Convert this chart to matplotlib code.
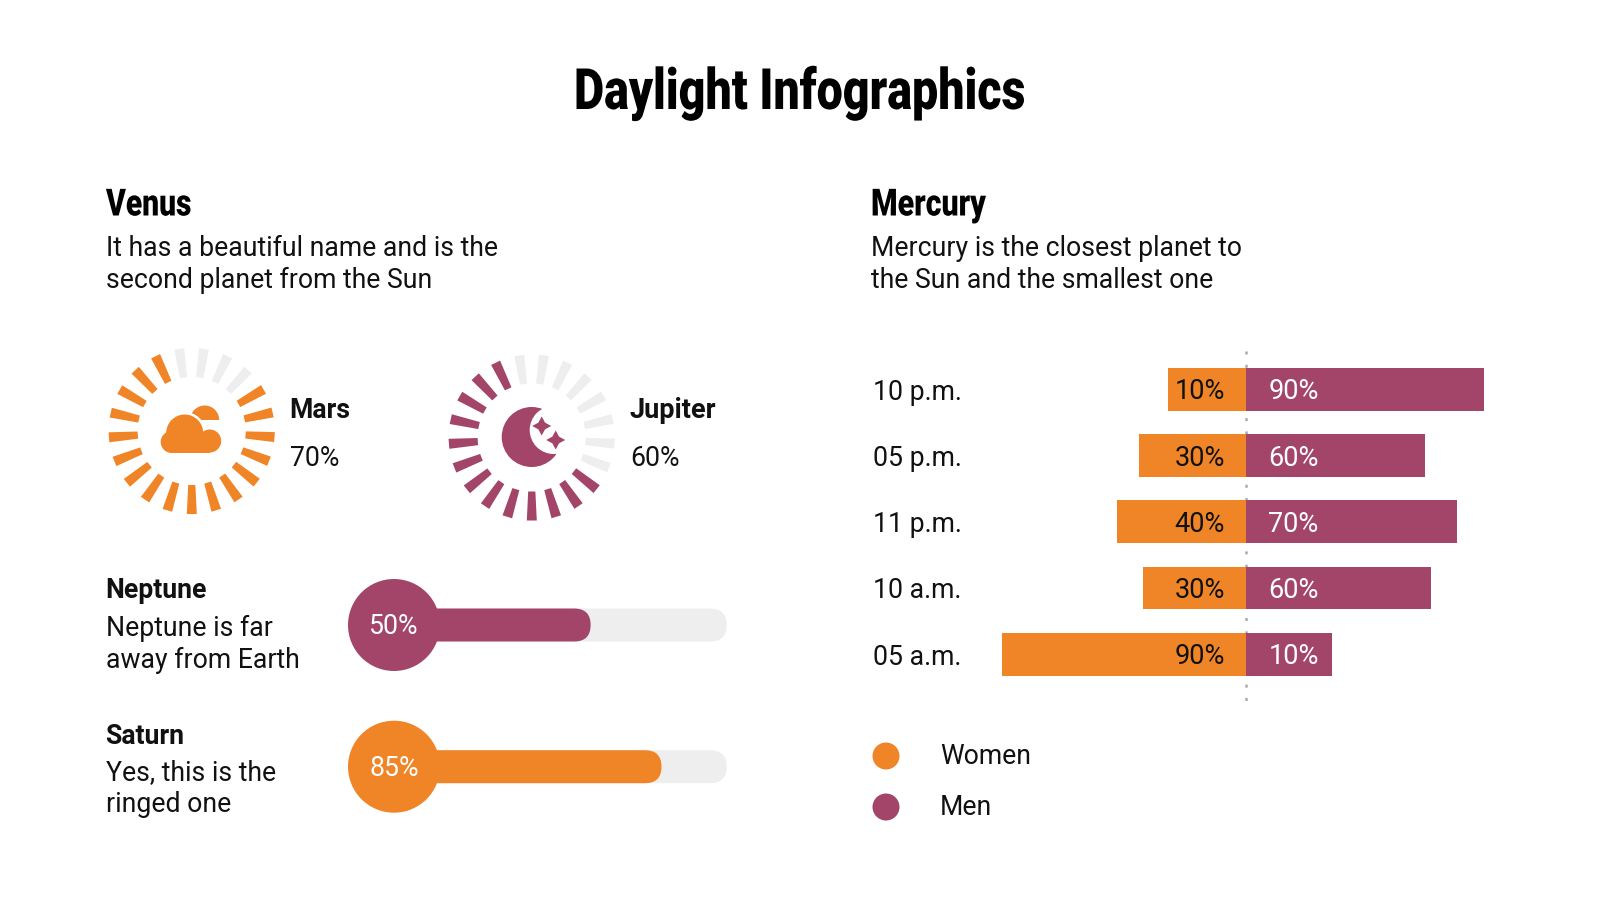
#!/usr/bin/env python3
"""Daylight infographics slide: gauges, progress bars and a diverging bar chart."""

import matplotlib
matplotlib.use("Agg")
import matplotlib.pyplot as plt
import numpy as np
from matplotlib.patches import Circle, FancyBboxPatch, Rectangle, Wedge
from matplotlib.patheffects import AbstractPathEffect
from matplotlib.transforms import Affine2D

ORANGE = "#F08527"
PLUM = "#A34569"
LIGHT = "#EEEEEE"
BODY = "Roboto"

# gauges
gauge_names = ["Mars", "Jupiter"]
gauge_labels = ["70%", "60%"]
gauge_ticks_total = 21
gauge_ticks_on = [17, 13]

# progress bars: fill is the share of the track covered in the picture
progress_names = ["Neptune", "Saturn"]
progress_labels = ["50%", "85%"]
progress_fill = [59.1, 80.4]

# diverging bars: lengths as drawn, labels as printed
hours = ["10 p.m.", "05 p.m.", "11 p.m.", "10 a.m.", "05 a.m."]
women_len = [30, 41, 49.5, 39.5, 94]
men_len = [91.5, 69, 81, 71, 33]
women_labels = ["10%", "30%", "40%", "30%", "90%"]
men_labels = ["90%", "60%", "70%", "60%", "10%"]

W, H = 1600, 900

fig = plt.figure(figsize=(W / 100, H / 100), dpi=100, facecolor="white")
page = fig.add_axes((0, 0, 1, 1))
page.set_xlim(0, W)
page.set_ylim(H, 0)
page.axis("off")


class Squeeze(AbstractPathEffect):
    """Narrow a text run sideways, there is no condensed face installed."""

    def __init__(self, sx):
        super().__init__()
        self.sx = sx

    def draw_path(self, renderer, gc, tpath, affine, rgbFace=None):
        renderer.draw_path(gc, tpath, Affine2D().scale(self.sx, 1) + affine, rgbFace)


def body_text(x, y, s, size=19.2, **kw):
    kw.setdefault("color", "#111111")
    page.text(x, y, s, fontsize=size, family=BODY, va="center", **kw)


def head_text(x, y, s, size, sx):
    t = page.text(x, y, s, fontsize=size, family=BODY, weight=900, va="center", color="black")
    t.set_path_effects([Squeeze(sx)])


def draw_gauge(cx, cy, n_on, color):
    for k in range(gauge_ticks_total):
        ang = np.deg2rad(8.5 + (k - 1) * 360 / gauge_ticks_total)
        u = np.array([np.sin(ang), -np.cos(ang)])
        v = np.array([u[1], -u[0]])
        a = np.array([cx, cy]) + 54 * u
        b = np.array([cx, cy]) + 83 * u
        pts = np.array([a - 3.6 * v, a + 3.6 * v, b + 5 * v, b - 5 * v])
        # the unlit ticks sit at the start, the lit ones run on clockwise
        lit = k >= gauge_ticks_total - n_on
        page.fill(pts[:, 0], pts[:, 1], color=color if lit else LIGHT, lw=0)


def draw_cloud(cx, cy):
    page.add_patch(Wedge((cx + 13, cy - 18), 14.5, 180, 360, color=ORANGE, lw=0))
    bumps = [(-7, -5, 18.5), (-20, 4, 11), (18, 3, 11.5)]
    for dx, dy, r in bumps:
        page.add_patch(Circle((cx + dx, cy + dy), r + 2.5, color="white", lw=0))
    for dx, dy, r in bumps:
        page.add_patch(Circle((cx + dx, cy + dy), r, color=ORANGE, lw=0))
    page.add_patch(Rectangle((cx - 20, cy), 38, 15, color=ORANGE, lw=0))


def draw_star(cx, cy, r):
    t = np.arange(8) * np.pi / 4
    rad = np.where(np.arange(8) % 2 == 0, r, r * 0.5)
    page.fill(cx + rad * np.sin(t), cy + rad * np.cos(t), color=PLUM, lw=0)


def draw_moon(cx, cy):
    page.add_patch(Circle((cx, cy), 30, color=PLUM, lw=0))
    page.add_patch(Circle((cx + 22, cy - 7), 24, color="white", lw=0))
    draw_star(cx + 10, cy - 11, 9.5)
    draw_star(cx + 24, cy + 3, 9.5)


def draw_progress(cy, fill, label, color):
    x0, x1 = 394, 726.7
    page.add_patch(FancyBboxPatch((x0, cy), x1 - x0 - 16.5, 0,
                                  boxstyle="round,pad=16.5", color=LIGHT, lw=0))
    end = x0 + (x1 - x0) * fill / 100
    page.add_patch(FancyBboxPatch((x0, cy), end - x0 - 16.5, 0,
                                  boxstyle="round,pad=16.5", color=color, lw=0))
    page.add_patch(Circle((x0, cy), 46, color=color, lw=0))
    page.text(x0, cy + 2, label, fontsize=19.2, family=BODY, color="white", ha="center", va="center")


# headings
head_text(574, 93, "Daylight Infographics", 41, 0.818)
head_text(106, 205, "Venus", 27, 0.80)
head_text(871, 205, "Mercury", 27, 0.81)
body_text(106, 249, "It has a beautiful name and is the")
body_text(106, 280, "second planet from the Sun")
body_text(871, 249, "Mercury is the closest planet to")
body_text(871, 280, "the Sun and the smallest one")

# gauges
draw_gauge(191.7, 431, gauge_ticks_on[0], ORANGE)
draw_gauge(531.7, 437.5, gauge_ticks_on[1], PLUM)
draw_cloud(191.7, 438)
draw_moon(531.7, 437)
body_text(289, 410, gauge_names[0], weight="bold")
body_text(290, 458, gauge_labels[0])
body_text(630, 410, gauge_names[1], weight="bold", size=19.5)
body_text(630, 458, gauge_labels[1])

# progress bars
body_text(105.5, 591, progress_names[0], weight="bold")
body_text(106, 628, "Neptune is far")
body_text(106, 660, "away from Earth")
body_text(105.5, 736, progress_names[1], weight="bold")
body_text(106, 773, "Yes, this is the")
body_text(106, 805, "ringed one")
draw_progress(625, progress_fill[0], progress_labels[0], PLUM)
draw_progress(766.7, progress_fill[1], progress_labels[1], ORANGE)

# diverging bars, 2.6 px to a unit, zero at x=1246
left, right, top, bottom = 990, 1490, 340, 705
ax = fig.add_axes((left / W, 1 - bottom / H, (right - left) / W, (bottom - top) / H))
ax.patch.set_alpha(0)
ax.set_xlim((left - 1246) / 2.6, (right - 1246) / 2.6)
ax.set_ylim((bottom - 389.7) / 66.1, (top - 389.7) / 66.1)
y = np.arange(len(hours))
ax.plot([0, 0], [(351 - 389.7) / 66.1, (701 - 389.7) / 66.1], color="#AAAAAA", lw=1.8,
        linestyle=(0, (1.2, 4.13)), zorder=1)
ax.barh(y, -np.array(women_len), height=0.65, color=ORANGE, zorder=2)
ax.barh(y, men_len, height=0.65, color=PLUM, zorder=2)
for i in y:
    ax.annotate(women_labels[i], (0, i), xytext=(-15, -1.6), textcoords="offset points",
                ha="right", va="center", fontsize=19.5, family=BODY, color="#111111", zorder=3)
    ax.annotate(men_labels[i], (0, i), xytext=(16, -1.6), textcoords="offset points",
                ha="left", va="center", fontsize=19.5, family=BODY, color="white", zorder=3)
ax.set_yticks(y, hours, family=BODY, fontsize=19.2, color="#111111", ha="left")
ax.set_xticks([])
ax.tick_params(axis="y", length=0, pad=(left - 873) * 0.72)
for side in ax.spines.values():
    side.set_visible(False)

# legend
page.add_patch(Circle((886, 756), 13.5, color=ORANGE, lw=0))
page.add_patch(Circle((886, 807), 13.5, color=PLUM, lw=0))
body_text(940, 756, "Women")
body_text(940, 807.6, "Men")

fig.savefig("out.png", dpi=100)
